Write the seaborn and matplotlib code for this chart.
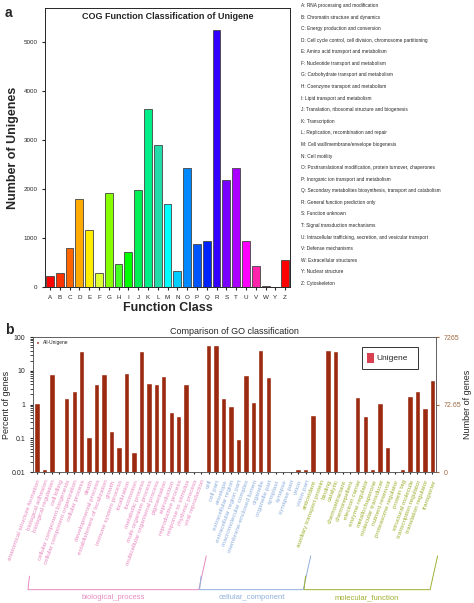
import numpy as np
import matplotlib
matplotlib.use("Agg")
import matplotlib.pyplot as plt
import matplotlib.transforms as mtransforms
from matplotlib.patches import Rectangle
import seaborn as sns
import pandas as pd

sns.set_style("ticks")
plt.rcParams['font.family'] = ['Liberation Sans', 'DejaVu Sans']

cog_letters = list("ABCDEFGHIJKLMNOPQRSTUVWYZ")
cog_counts = [220, 290, 790, 1790, 1170, 280, 1920, 480, 720, 1980, 3640, 2900, 1700,
              320, 2420, 880, 940, 5240, 2190, 2430, 940, 420, 15, 0, 550]
cog_colors = ["#ff0000", "#ff3300", "#ff6600", "#ffaa00", "#ffee00", "#ddff33", "#88ff00",
              "#44ff22", "#00ff00", "#00ee55", "#00ee88", "#22ddaa", "#00ffff", "#00ccff",
              "#0088ff", "#0055ff", "#0022ff", "#3300ff", "#7700ff", "#aa00ff", "#ff00ff",
              "#ff22aa", "#ff0066", "#ff0044", "#ff0000"]
cog_desc = [
    "A: RNA processing and modification",
    "B: Chromatin structure and dynamics",
    "C: Energy production and conversion",
    "D: Cell cycle control, cell division, chromosome partitioning",
    "E: Amino acid transport and metabolism",
    "F: Nucleotide transport and metabolism",
    "G: Carbohydrate transport and metabolism",
    "H: Coenzyme transport and metabolism",
    "I: Lipid transport and metabolism",
    "J: Translation, ribosomal structure and biogenesis",
    "K: Transcription",
    "L: Replication, recombination and repair",
    "M: Cell wall/membrane/envelope biogenesis",
    "N: Cell motility",
    "O: Posttranslational modification, protein turnover, chaperones",
    "P: Inorganic ion transport and metabolism",
    "Q: Secondary metabolites biosynthesis, transport and catabolism",
    "R: General function prediction only",
    "S: Function unknown",
    "T: Signal transduction mechanisms",
    "U: Intracellular trafficking, secretion, and vesicular transport",
    "V: Defense mechanisms",
    "W: Extracellular structures",
    "Y: Nuclear structure",
    "Z: Cytoskeleton",
]

bp_terms = ["anatomical structure formation", "biological adhesion", "biological regulation",
            "cell killing", "cellular component biogenesis", "cellular component organization",
            "cellular process", "death", "developmental process", "establishment of localization",
            "growth", "immune system process", "localization", "locomotion", "metabolic process",
            "multi-organism process", "multicellular organismal process", "pigmentation",
            "reproduction", "reproductive process", "response to stimulus", "rhythmic process",
            "viral reproduction"]
bp_vals = [1.1, 0.012, 8, 0, 1.6, 2.5, 38, 0.11, 4.2, 8.3, 0.16, 0.055, 8.5, 0.04, 40, 4.3,
           4.0, 7.2, 0.6, 0.47, 4.2, 0.011, 0.011]
cc_terms = ["cell", "cell part", "envelope", "extracellular region", "extracellular region part",
            "macromolecular complex", "membrane-enclosed lumen", "organelle", "organelle part",
            "symplast", "synapse", "synapse part", "virion", "virion part"]
cc_vals = [60, 60, 1.6, 0.9, 0.095, 7.5, 1.2, 42, 6.5, 0, 0, 0, 0.012, 0.012]
mf_terms = ["antioxidant", "auxiliary transport protein", "binding", "catalytic",
            "chemoattractant", "chemorepellent", "electron carrier", "enzyme regulator",
            "metallochaperone", "molecular transducer", "nutrient reservoir",
            "proteasome regulator", "protein tag", "structural molecule",
            "transcription regulator", "translation regulator", "transporter"]
mf_vals = [0.5, 0, 42, 40, 0, 0, 1.7, 0.45, 0.012, 1.15, 0.055, 0, 0.012, 1.8, 2.6, 0.8, 5.2]

groups = [("biological_process", bp_terms, bp_vals, "#e88ac0"),
          ("cellular_component", cc_terms, cc_vals, "#8fb0dc"),
          ("molecular_function", mf_terms, mf_vals, "#a0b030")]

fig = plt.figure(figsize=(4.74, 6.03), dpi=100)

# ---- panel a ----
axa = fig.add_axes([0.095, 0.524, 0.517, 0.463])
dfa = pd.DataFrame({"cls": cog_letters, "n": cog_counts})
sns.barplot(data=dfa, x="cls", y="n", hue="cls", palette=cog_colors, legend=False,
            saturation=1, edgecolor="#444444", linewidth=0.6, width=0.8, ax=axa)
axa.set_ylim(0, 5700)
axa.set_yticks([0, 1000, 2000, 3000, 4000, 5000])
axa.tick_params(axis='both', labelsize=4.5, length=2)
axa.set_xlabel("Function Class", fontsize=9, fontweight='bold', labelpad=2)
axa.set_ylabel("Number of Unigenes", fontsize=9, fontweight='bold', labelpad=3)
axa.set_title("COG Function Classification of Unigene", fontsize=6.5, fontweight='bold',
              y=0.93)
for s in axa.spines.values():
    s.set_linewidth(0.7)
fig.text(0.01, 0.99, "a", fontsize=10, fontweight='bold', va='top')
for i, d in enumerate(cog_desc):
    fig.text(0.635, 0.995 - i * 0.0192, d, fontsize=3.4, va='top')

# ---- panel b ----
terms, vals, cols = [], [], []
for name, t, v, c in groups:
    terms += t
    vals += v
    cols += [c] * len(t)
vals_plot = [np.nan if v == 0 else v for v in vals]
axb = fig.add_axes([0.07, 0.217, 0.85, 0.224])
dfb = pd.DataFrame({"term": terms, "pct": vals_plot})
axb.set_yscale("log")
sns.barplot(data=dfb, x="term", y="pct", color="#9b2a10", saturation=1, width=0.72,
            ax=axb, label="All-Unigene")
axb.set_ylim(0.01, 100)
axb.set_xlim(-0.5, len(terms) - 0.5)
axb.set_yticks([0.01, 0.1, 1, 10, 100])
axb.set_yticklabels(["0.01", "0.1", "1", "10", "100"])
axb.tick_params(axis='y', labelsize=5, length=2)
axb.tick_params(axis='x', length=1.5)
axb.set_xticks(range(len(terms)))
axb.set_xticklabels(terms, rotation=70, ha='right', rotation_mode='anchor', fontsize=4.6)
for lbl, c in zip(axb.get_xticklabels(), cols):
    lbl.set_color(c)
axb.set_xlabel("")
axb.set_ylabel("Percent of genes", fontsize=6.5, labelpad=1)
axb.set_title("Comparison of GO classification", fontsize=6.5, pad=2)
axb.legend(loc='upper left', fontsize=3.5, frameon=False, handlelength=0.7,
           borderaxespad=0.2)
axr = axb.twinx()
axr.set_yscale("log")
axr.set_ylim(0.01, 100)
axr.set_yticks([0.01, 1, 100])
axr.set_yticklabels(["0", "72.65", "7265"])
axr.minorticks_off()
axr.tick_params(axis='y', labelsize=5, colors="#a06840", length=2)
axr.set_ylabel("Number of genes", fontsize=6.5, labelpad=1)
for ax in (axb, axr):
    for s in ax.spines.values():
        s.set_linewidth(0.5)
        s.set_color("#555555")
# Unigene box
axb.add_patch(Rectangle((0.815, 0.76), 0.14, 0.17, transform=axb.transAxes,
                        facecolor='white', edgecolor='#333333', lw=0.7, zorder=5))
axb.add_patch(Rectangle((0.828, 0.81), 0.018, 0.07, transform=axb.transAxes,
                        facecolor='#d94050', edgecolor='none', zorder=6))
axb.text(0.852, 0.845, "Unigene", transform=axb.transAxes, fontsize=6, va='center',
         zorder=6)
fig.text(0.01, 0.465, "b", fontsize=10, fontweight='bold', va='top')

# group brackets
trans = mtransforms.blended_transform_factory(axb.transData, axb.transAxes)
start = 0
for name, t, v, c in groups:
    x0, x1 = start - 1.2, start + len(t) - 1.3
    yb, yt = -0.87, -0.62
    axb.plot([x0 + 0.2, x0, x1, x1 + 1.0], [yb + 0.1, yb, yb, yt], color=c, lw=0.7,
             transform=trans, clip_on=False)
    axb.text((x0 + x1) / 2, -0.93, name, color=c, fontsize=5.5, ha='center', va='center',
             transform=trans)
    start += len(t)

fig.savefig("out.png", dpi=100)
